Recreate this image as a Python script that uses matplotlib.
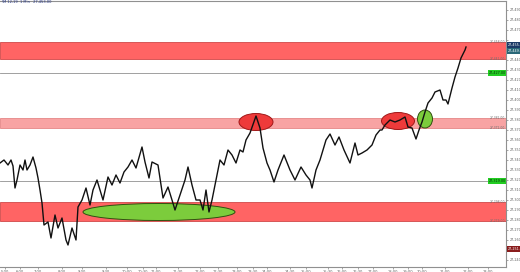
import matplotlib
matplotlib.use("Agg")
import matplotlib.pyplot as plt
from matplotlib.patches import Ellipse

# ---- data ----
bar_x = [0, 4, 8, 11, 13, 15, 17, 20, 23, 25, 27, 30, 33, 36, 38, 40, 42, 44, 48, 51,
         55, 58, 62, 66, 68, 72, 76, 78, 82, 86, 90, 93, 97, 100, 103, 108, 112, 116, 120, 124,
         128, 132, 136, 142, 145, 149, 152, 158, 163, 168, 172, 175, 180, 185, 188, 192, 196, 200, 203, 206,
         209, 212, 216, 220, 224, 228, 232, 236, 240, 243, 246, 250, 256, 260, 263, 267, 270, 274, 278, 284,
         288, 290, 295, 301, 306, 310, 312, 316, 320, 326, 330, 335, 339, 344, 350, 355, 358, 362, 367, 372,
         376, 380, 382, 385, 390, 395, 400, 405, 408, 412, 416, 419, 422, 425, 428, 432, 435, 440, 443, 446,
         448, 452, 455, 458, 461, 465, 466]
close = [27337, 27340, 27335, 27340, 27334, 27312, 27320, 27335, 27330, 27340, 27330, 27335, 27343, 27332, 27322, 27310, 27297, 27275, 27278, 27262,
         27285, 27272, 27282, 27260, 27255, 27272, 27260, 27293, 27300, 27312, 27295, 27310, 27320, 27310, 27300, 27323, 27315, 27325, 27317, 27328,
         27333, 27340, 27332, 27353, 27338, 27322, 27338, 27335, 27302, 27313, 27300, 27290, 27305, 27320, 27333, 27315, 27300, 27300, 27290, 27310,
         27288, 27300, 27320, 27340, 27335, 27350, 27345, 27337, 27350, 27348, 27360, 27367, 27384, 27372, 27352, 27337, 27330, 27318, 27330, 27345,
         27335, 27330, 27320, 27333, 27325, 27320, 27312, 27330, 27340, 27360, 27366, 27355, 27363, 27350, 27337, 27357, 27345, 27347, 27350, 27355,
         27365, 27370, 27370, 27375, 27380, 27378, 27380, 27383, 27373, 27372, 27361, 27370, 27378, 27388, 27397, 27402, 27408, 27410, 27400, 27400,
         27396, 27412, 27423, 27432, 27442, 27450, 27453]

# zones: (low, high)
zones_strong = [(27441, 27458), (27279, 27298)]
zones_light = [(27372, 27382)]
levels = [27427, 27319]

# highlight ellipses: (x, price, width, height)
red_marks = [(256, 27378, 34, 17), (398, 27379, 33, 17)]
green_marks = [(425, 27381, 15, 18), (159, 27288, 152, 17)]

time_pos = [5, 20, 38, 62, 82, 106, 127, 143, 156, 178, 200, 218, 237, 253, 267, 290, 306, 328,
            342, 358, 373, 393, 408, 422, 445, 468, 488]
time_lbl = ["5:00", "6:00", "7:00", "8:00", "9:00", "9:30", "10:00", "10:30", "11:00", "11:30",
            "12:00", "12:30", "13:00", "13:30", "14:00", "14:30", "15:00", "15:30", "16:00", "16:30",
            "17:00", "18:00", "19:00", "20:00", "21:00", "22:00", "23:00"]
price_ticks = list(range(27240, 27500, 10))

# right-axis price markers: (price, face, text colour, inside plot)
markers = [(27455, "#1c3a66", "white", False), (27449, "#2a6878", "white", False),
           (27427, "#22cc22", "#063006", True), (27319, "#22cc22", "#063006", True),
           (27251, "#8a1c1c", "white", False)]

# ---- figure ----
fig = plt.figure(figsize=(5.2, 2.72), dpi=100)
W, H = 520, 272
ax = fig.add_axes([0 / W, (H - 267) / H, 506 / W, 266 / H])
ax.set_xlim(0, 506)
ax.set_ylim(27233, 27499)

for lo, hi in zones_strong:
    ax.axhspan(lo, hi, facecolor="#ff6464", edgecolor="#d04848", linewidth=0.6, zorder=1)
for lo, hi in zones_light:
    ax.axhspan(lo, hi, facecolor="#f8a3a3", edgecolor="#e07878", linewidth=0.5, zorder=1)
for lv in levels:
    ax.axhline(lv, color="#909090", linewidth=0.6, zorder=1.5)

for (cx, cy, w, h) in red_marks:
    ax.add_patch(Ellipse((cx, cy), w, h, facecolor="#ee3a3a", edgecolor="#a01818", linewidth=0.7, zorder=2))
for (cx, cy, w, h) in green_marks:
    ax.add_patch(Ellipse((cx, cy), w, h, facecolor="#7ccc3c", edgecolor="#305010", linewidth=0.7, zorder=2))

ax.plot(bar_x, close, color="#111111", linewidth=1.0, zorder=3)

# axes styling
ax.spines["left"].set_visible(False)
for s in ["top", "right", "bottom"]:
    ax.spines[s].set_color("#909090")
    ax.spines[s].set_linewidth(0.8)

outside = [m[0] for m in markers if not m[3]]
ax.yaxis.tick_right()
ax.set_yticks(price_ticks)
ax.set_yticklabels(["" if any(abs(p - o) < 6 for o in outside) else f"{p:,.2f}" for p in price_ticks])
ax.tick_params(axis="y", labelsize=2.4, colors="#606060", length=1.5, width=0.4, pad=1)
ax.set_xticks(time_pos)
ax.set_xticklabels(time_lbl)
ax.tick_params(axis="x", labelsize=2.6, colors="#606060", length=1.5, width=0.4, pad=0.5)

# zone labels
for lo, hi in zones_strong + zones_light:
    for v in (lo, hi):
        ax.text(505, v, f"{v:,.2f}", fontsize=2.2, color="#707070", ha="right", va="center", zorder=4)

for price, fc, tc, inside in markers:
    x = 0.999 if inside else 1.003
    ha = "right" if inside else "left"
    ax.text(x, price, f"{price:,.2f}", transform=ax.get_yaxis_transform(), fontsize=2.4,
            color=tc, ha=ha, va="center", clip_on=False, zorder=6,
            bbox=dict(boxstyle="square,pad=0.25", facecolor=fc, edgecolor="none"))

fig.text(0.002, 0.999, "YM 12-19  1 Min   27,453.00", fontsize=2.6, color="#203080", ha="left", va="top")

fig.savefig("out.png", dpi=100)
